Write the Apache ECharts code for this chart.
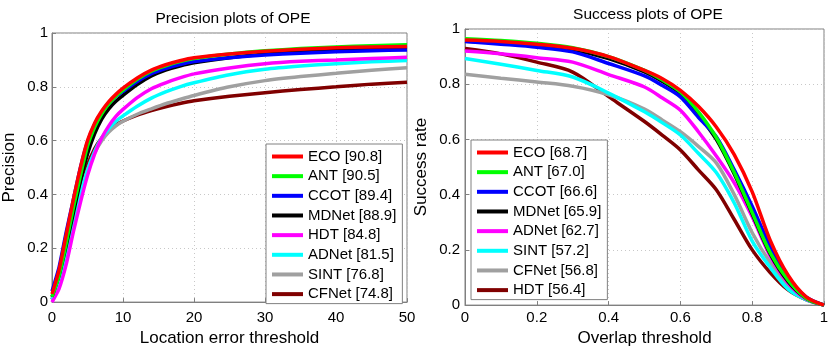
<!DOCTYPE html>
<html>
<head>
<meta charset="utf-8">
<script src="https://cdn.jsdelivr.net/npm/echarts@6/dist/echarts.min.js"></script>
<style>
  html, body { margin: 0; padding: 0; background: #fff; }
  #chart { width: 832px; height: 352px; }
</style>
</head>
<body>
<div id="chart"></div>
<script>
  // precision plot (location error threshold, pixels)
  var precX = [0, 1, 2, 3, 4, 5, 6, 7, 8, 9, 10, 12, 14, 16, 18, 20, 25, 30, 35, 40, 45, 50]
  var precNames = ['ECO [90.8]', 'ANT [90.5]', 'CCOT [89.4]', 'MDNet [88.9]', 'HDT [84.8]', 'ADNet [81.5]', 'SINT [76.8]', 'CFNet [74.8]']
  var precECO   = [0.03, 0.12, 0.25, 0.38, 0.50, 0.60, 0.665, 0.71, 0.745, 0.772, 0.795, 0.833, 0.862, 0.882, 0.897, 0.908, 0.922, 0.932, 0.94, 0.945, 0.948, 0.95]
  var precANT   = [0.02, 0.10, 0.22, 0.35, 0.47, 0.58, 0.65, 0.70, 0.737, 0.765, 0.788, 0.828, 0.858, 0.878, 0.894, 0.905, 0.922, 0.934, 0.942, 0.948, 0.953, 0.956]
  var precCCOT  = [0.04, 0.13, 0.26, 0.38, 0.50, 0.595, 0.66, 0.705, 0.738, 0.763, 0.783, 0.82, 0.849, 0.868, 0.883, 0.894, 0.908, 0.918, 0.925, 0.93, 0.934, 0.937]
  var precMDNet = [0.02, 0.10, 0.21, 0.33, 0.45, 0.55, 0.625, 0.68, 0.718, 0.746, 0.768, 0.808, 0.84, 0.862, 0.877, 0.889, 0.908, 0.922, 0.932, 0.938, 0.943, 0.946]
  var precHDT   = [0.0, 0.05, 0.14, 0.26, 0.37, 0.47, 0.55, 0.61, 0.655, 0.69, 0.716, 0.76, 0.793, 0.815, 0.833, 0.848, 0.87, 0.886, 0.895, 0.90, 0.905, 0.91]
  var precADNet = [0.01, 0.07, 0.17, 0.29, 0.40, 0.49, 0.56, 0.61, 0.645, 0.672, 0.692, 0.728, 0.758, 0.781, 0.80, 0.815, 0.845, 0.865, 0.877, 0.886, 0.893, 0.898]
  var precSINT  = [0.01, 0.07, 0.17, 0.29, 0.40, 0.49, 0.555, 0.60, 0.632, 0.655, 0.672, 0.698, 0.718, 0.737, 0.753, 0.768, 0.80, 0.823, 0.838, 0.85, 0.862, 0.871]
  var precCFNet = [0.01, 0.08, 0.19, 0.31, 0.42, 0.51, 0.57, 0.61, 0.638, 0.658, 0.673, 0.695, 0.712, 0.726, 0.738, 0.748, 0.765, 0.778, 0.79, 0.80, 0.81, 0.817]

  // success plot (overlap threshold)
  var succX = [0, 0.1, 0.2, 0.3, 0.4, 0.5, 0.55, 0.6, 0.65, 0.7, 0.75, 0.8, 0.85, 0.9, 0.95, 1]
  var succNames = ['ECO [68.7]', 'ANT [67.0]', 'CCOT [66.6]', 'MDNet [65.9]', 'ADNet [62.7]', 'SINT [57.2]', 'CFNet [56.8]', 'HDT [56.4]']
  var succECO   = [0.96, 0.955, 0.945, 0.93, 0.9, 0.85, 0.82, 0.778, 0.72, 0.645, 0.545, 0.41, 0.235, 0.108, 0.03, 0]
  var succANT   = [0.965, 0.958, 0.948, 0.932, 0.9, 0.85, 0.815, 0.772, 0.7, 0.607, 0.48, 0.335, 0.19, 0.09, 0.025, 0]
  var succCCOT  = [0.955, 0.945, 0.934, 0.917, 0.875, 0.83, 0.795, 0.754, 0.68, 0.61, 0.49, 0.358, 0.214, 0.1, 0.03, 0]
  var succMDNet = [0.956, 0.95, 0.94, 0.925, 0.893, 0.845, 0.81, 0.766, 0.69, 0.6, 0.475, 0.33, 0.185, 0.085, 0.025, 0]
  var succADNet = [0.92, 0.91, 0.896, 0.88, 0.835, 0.79, 0.75, 0.706, 0.628, 0.54, 0.443, 0.32, 0.178, 0.08, 0.022, 0]
  var succSINT  = [0.893, 0.872, 0.85, 0.826, 0.768, 0.7, 0.66, 0.616, 0.55, 0.48, 0.37, 0.232, 0.137, 0.058, 0.02, 0]
  var succCFNet = [0.836, 0.822, 0.808, 0.793, 0.762, 0.71, 0.67, 0.628, 0.575, 0.515, 0.4, 0.262, 0.154, 0.07, 0.022, 0]
  var succHDT   = [0.929, 0.91, 0.88, 0.844, 0.755, 0.665, 0.615, 0.562, 0.49, 0.418, 0.31, 0.2, 0.118, 0.055, 0.02, 0]

  var precColors = ['#ff0000', '#00ff00', '#0000ff', '#000000', '#ff00ff', '#00ffff', '#a0a0a0', '#800000']
  var succColors = ['#ff0000', '#00ff00', '#0000ff', '#000000', '#ff00ff', '#00ffff', '#a0a0a0', '#800000']

  var precData = [precECO, precANT, precCCOT, precMDNet, precHDT, precADNet, precSINT, precCFNet]
  var succData = [succECO, succANT, succCCOT, succMDNet, succADNet, succSINT, succCFNet, succHDT]

  var FONT = 'Liberation Sans'

  function pairs(xs, ys) {
    var out = []
    for (var i = 0; i < xs.length; i++) out.push([xs[i], ys[i]])
    return out
  }

  function valueAxis(gridIndex, min, max, interval, opts) {
    var a = {
      type: 'value',
      gridIndex: gridIndex,
      min: min,
      max: max,
      interval: interval,
      axisLine: { show: true, onZero: false, lineStyle: { color: '#808080', width: 1 } },
      axisTick: { show: true, inside: true, length: 4, lineStyle: { color: '#808080' } },
      axisLabel: { color: '#000', fontFamily: FONT, fontSize: 15 },
      splitLine: { show: true, lineStyle: { color: '#c8c8c8', type: [1, 3], width: 1 } },
      nameTextStyle: { color: '#000', fontFamily: FONT, fontSize: 17 }
    }
    for (var k in opts) a[k] = opts[k]
    return a
  }

  var series = []
  for (var i = 0; i < precData.length; i++) {
    series.push({
      name: precNames[i], type: 'line', xAxisIndex: 0, yAxisIndex: 0,
      data: pairs(precX, precData[i]), smooth: 0.2, showSymbol: false,
      color: precColors[i], lineStyle: { width: 3.5 }, z: 10 - i
    })
  }
  for (var j = 0; j < succData.length; j++) {
    series.push({
      name: succNames[j], type: 'line', xAxisIndex: 1, yAxisIndex: 1,
      data: pairs(succX, succData[j]), smooth: 0.3, showSymbol: false,
      color: succColors[j], lineStyle: { width: 3.5 }, z: 10 - j
    })
  }

  var legendBase = {
    orient: 'vertical',
    itemWidth: 31,
    itemHeight: 4,
    itemGap: 2.66,
    itemTextGap: 5,
    icon: 'rect',
    backgroundColor: '#fff',
    borderColor: '#808080',
    borderWidth: 1,
    borderRadius: 0,
    padding: [4, 6, 1, 6],
    selectedMode: false,
    textStyle: { color: '#000', fontFamily: FONT, fontSize: 15, lineHeight: 17 }
  }

  var option = {
    animation: false,
    backgroundColor: '#fff',
    title: [
      { text: 'Precision plots of OPE', left: 228, top: 6, textAlign: 'center',
        textStyle: { fontFamily: FONT, fontSize: 15.5, fontWeight: 'normal', color: '#000' } },
      { text: 'Success plots of OPE', left: 643, top: 2, textAlign: 'center',
        textStyle: { fontFamily: FONT, fontSize: 15.5, fontWeight: 'normal', color: '#000' } }
    ],
    grid: [
      { left: 50, right: 425, top: 33, bottom: 44, show: true, borderColor: '#808080', borderWidth: 1 },
      { left: 465, right: 8, top: 29, bottom: 46, show: true, borderColor: '#808080', borderWidth: 1 }
    ],
    xAxis: [
      valueAxis(0, 0, 50, 10, { name: 'Location error threshold', nameLocation: 'middle', nameGap: 25,
        axisLabel: { color: '#000', fontFamily: FONT, fontSize: 15, margin: 8 } }),
      valueAxis(1, 0, 1, 0.2, { name: 'Overlap threshold', nameLocation: 'middle', nameGap: 22,
        axisLabel: { color: '#000', fontFamily: FONT, fontSize: 15, margin: 5 } })
    ],
    yAxis: [
      valueAxis(0, 0, 1, 0.2, { name: 'Precision', nameLocation: 'middle', nameGap: 34,
        axisLabel: { color: '#000', fontFamily: FONT, fontSize: 15, margin: 4 } }),
      valueAxis(1, 0, 1, 0.2, { name: 'Success rate', nameLocation: 'middle', nameGap: 35,
        axisLabel: { color: '#000', fontFamily: FONT, fontSize: 15, margin: 5 } })
    ],
    legend: [
      Object.assign({}, legendBase, { data: precNames, left: 266, top: 144 }),
      Object.assign({}, legendBase, { data: succNames, left: 471, top: 140 })
    ],
    series: series
  }

  var chart = echarts.init(document.getElementById('chart'))
  chart.setOption(option)
</script>
</body>
</html>
